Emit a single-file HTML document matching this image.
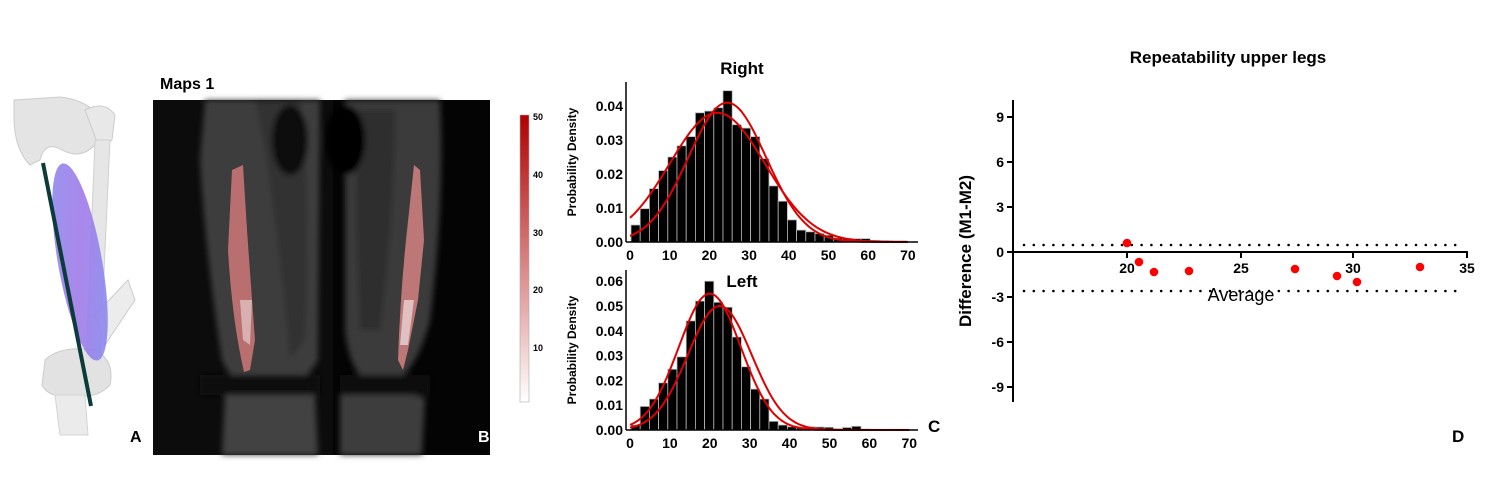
<!DOCTYPE html>
<html><head><meta charset="utf-8">
<style>
html,body{margin:0;padding:0;background:#fff;}
svg{display:block;font-family:"Liberation Sans",Arial,sans-serif;}
</style></head>
<body>
<svg id="s" width="1499" height="479" viewBox="0 0 1499 479" xmlns="http://www.w3.org/2000/svg">
<defs>
<linearGradient id="cb" x1="0" y1="1" x2="0" y2="0">
<stop offset="0" stop-color="#ffffff"/><stop offset="1" stop-color="#b00000"/></linearGradient>
<filter id="bl"><feGaussianBlur stdDeviation="3"/></filter>
<linearGradient id="fib" x1="0" y1="0" x2="1" y2="1">
<stop offset="0" stop-color="#8a8cf0"/><stop offset="0.5" stop-color="#a07ae8"/><stop offset="1" stop-color="#7f8ff2"/></linearGradient>
</defs>

<!-- Panel A -->
<g>
<path d="M14,100 L60,97 Q90,100 100,120 L95,145 Q80,160 62,150 Q45,140 40,160 L30,165 Q15,150 14,120 Z" fill="#e4e4e4" stroke="#ccc"/>
<path d="M85,110 Q105,100 115,115 L112,140 L100,150 Z" fill="#e8e8e8" stroke="#ccc"/>
<path d="M95,140 L110,140 L100,360 L86,360 Z" fill="#e6e6e6" stroke="#d0d0d0"/>
<path d="M45,360 Q60,345 95,350 Q115,360 110,385 Q95,400 75,395 Q50,400 42,385 Z" fill="#e2e2e2" stroke="#ccc"/>
<path d="M55,395 L85,395 L88,435 L60,435 Z" fill="#ebebeb" stroke="#d4d4d4"/>
<path d="M95,315 L128,280 L135,300 L105,345 Z" fill="#ececec" stroke="#ccc"/>
<ellipse cx="80" cy="262" rx="22" ry="100" transform="rotate(-10 80 262)" fill="url(#fib)" opacity="0.9"/>
<line x1="43" y1="163" x2="91" y2="406" stroke="#0d3b3b" stroke-width="4"/>
<text x="130" y="442" font-size="16" font-weight="bold">A</text>
</g>

<!-- Panel B -->
<text x="160" y="89" font-size="16" font-weight="bold">Maps 1</text>
<g>
<rect x="153" y="100" width="337" height="355" fill="#040404"/>
<rect x="153" y="100" width="180" height="355" fill="#0c0c0c"/>
<g filter="url(#bl)">
<path d="M205,100 L320,100 L318,360 Q300,390 270,395 Q235,390 222,360 Q205,250 200,160 Z" fill="#3c3c3c"/>
<path d="M255,100 L300,100 Q312,200 305,340 L290,360 Q280,250 265,150 Z" fill="#303030"/>
<path d="M345,100 L440,100 Q445,200 430,320 Q415,380 380,390 Q350,380 345,330 Z" fill="#3a3a3a"/>
<path d="M355,110 L395,110 Q395,220 380,330 L360,330 Q355,220 355,110 Z" fill="#2e2e2e"/>
<path d="M225,395 Q250,385 315,395 L318,455 L222,455 Z" fill="#424242"/>
<path d="M340,395 Q380,385 425,398 L422,455 L340,455 Z" fill="#3e3e3e"/>
<ellipse cx="290" cy="140" rx="18" ry="35" fill="#0a0a0a"/>
<ellipse cx="345" cy="140" rx="20" ry="35" fill="#060606"/>
<rect x="200" y="375" width="120" height="20" fill="#0a0a0a"/>
<rect x="340" y="375" width="90" height="20" fill="#0a0a0a"/>
</g>
<path d="M232,170 L243,165 L247,230 L252,300 L255,340 L250,370 L244,372 Q232,320 228,250 Z" fill="#c07272" opacity="0.95"/>
<path d="M240,300 L252,300 L250,345 L243,340 Z" fill="#d8b0b0"/>
<path d="M414,165 L420,170 L424,240 L418,300 L408,350 L403,370 L398,360 Q400,300 406,240 Z" fill="#c57a7a" opacity="0.95"/>
<path d="M404,300 L414,300 L408,345 L400,345 Z" fill="#e0c0c0"/>
<text x="478" y="442" font-size="16" font-weight="bold" fill="#fff">B</text>
</g>
<rect x="520" y="115" width="9" height="287" fill="url(#cb)" stroke="#aaa" stroke-width="0.6"/>
<g font-size="9" font-weight="bold">
<text x="533" y="120">50</text><text x="533" y="178">40</text><text x="533" y="236">30</text><text x="533" y="293">20</text><text x="533" y="351">10</text>
</g>

<g id="hist"></g>
<text x="742" y="74" font-size="17" font-weight="bold" text-anchor="middle">Right</text>
<text x="742" y="287" font-size="17" font-weight="bold" text-anchor="middle">Left</text>
<text x="928" y="432" font-size="17" font-weight="bold">C</text>

<!-- Panel D -->
<text x="1228" y="63" font-size="17" font-weight="bold" text-anchor="middle">Repeatability upper legs</text>
<g id="pd"></g>
<text x="1452" y="442" font-size="17" font-weight="bold">D</text>
</svg>
<script>
var NS="http://www.w3.org/2000/svg";
function el(p,t,a,txt){var e=document.createElementNS(NS,t);for(var k in a)e.setAttribute(k,a[k]);if(txt!=null)e.textContent=txt;p.appendChild(e);return e;}
var H=document.getElementById('hist');
function gauss(m,s,p,x){return p*Math.exp(-(x-m)*(x-m)/(2*s*s));}
function plot(y0,sc,x0,ux,vals,maxT,curves,ytop){
  for(var i=0;i<vals.length;i++){
    var h=vals[i]*sc;
    el(H,'rect',{x:x0+1+i*9.2,y:y0-h,width:9.2,height:h,fill:'#000',stroke:'#bbb','stroke-width':0.8});
  }
  curves.forEach(function(c){
    var d='';for(var x=0;x<=70;x+=0.5){var px=x0+x*ux,py=y0-gauss(c[0],c[1],c[2],x)*sc;d+=(x?'L':'M')+px.toFixed(1)+','+py.toFixed(1);}
    el(H,'path',{d:d,fill:'none',stroke:'#e00000','stroke-width':2});
  });
  el(H,'line',{x1:x0-4,y1:ytop,x2:x0-4,y2:y0,stroke:'#000','stroke-width':1.5});
  el(H,'line',{x1:x0-4,y1:y0,x2:x0+288,y2:y0,stroke:'#000','stroke-width':1.5});
  for(var t=0;t<=70;t+=10){el(H,'text',{x:x0+t*ux,y:y0+18,'font-size':14,'font-weight':'bold','text-anchor':'middle'},String(t));}
  for(var v=0;v<=maxT;v++){var py=y0-v*0.01*sc;el(H,'text',{x:x0-7,y:py+5,'font-size':14,'font-weight':'bold','text-anchor':'end'},(v/100).toFixed(2));}
  var cy=(ytop+y0)/2;
  el(H,'text',{x:0,y:0,'font-size':12,'font-weight':'bold','text-anchor':'middle',transform:'translate(576,'+cy+') rotate(-90)'},'Probability Density');
}
plot(242,3400,630,3.97,[.005,.0098,.0157,.021,.025,.0283,.031,.038,.0385,.0395,.0445,.0345,.0335,.031,.0245,.0165,.012,.0065,.0035,.003,.0025,.002,.0012,.0011,.001,.001,.0005,.0004,.0003,.0003],4,[[24.5,9.8,.041],[22,12,.038]],82);
plot(430,2480,630,3.99,[.002,.0095,.0125,.019,.0245,.0295,.044,.052,.060,.0515,.0495,.0375,.0255,.0165,.0125,.0035,.002,.0013,.0012,.0013,.0012,.0011,.0005,.001,.0015,.0004,.0003,.0003,.0003,.0003],6,[[20,7.8,.055],[22.5,8,.050]],270);

var D=document.getElementById('pd');
el(D,'line',{x1:1013,y1:100,x2:1013,y2:402,stroke:'#000','stroke-width':2});
el(D,'line',{x1:1012,y1:252,x2:1468,y2:252,stroke:'#000','stroke-width':2});
[[9,117],[6,162],[3,207],[0,252],[-3,297],[-6,342],[-9,387]].forEach(function(t){
 el(D,'line',{x1:1007,y1:t[1],x2:1013,y2:t[1],stroke:'#000','stroke-width':2});
 el(D,'text',{x:1004,y:t[1]+5,'font-size':14,'font-weight':'bold','text-anchor':'end'},t[0]===0?'0':(t[0]<0?'-'+(-t[0]):String(t[0])));
});
[[20,1127],[25,1241],[30,1353],[35,1467]].forEach(function(t){
 el(D,'line',{x1:t[1],y1:252,x2:t[1],y2:258,stroke:'#000','stroke-width':2});
 el(D,'text',{x:t[1],y:273,'font-size':14,'font-weight':'bold','text-anchor':'middle'},String(t[0]));
});
for(var x=1024;x<=1463;x+=9.8){el(D,'circle',{cx:x,cy:245,r:1.3,fill:'#000'});el(D,'circle',{cx:x,cy:291,r:1.3,fill:'#000'});}
el(D,'text',{x:1241,y:301,'font-size':18,'text-anchor':'middle'},'Average');
[[1127,243],[1139,262],[1154,272],[1189,271],[1295,269],[1337,276],[1357,282],[1420,267]].forEach(function(p){
 el(D,'circle',{cx:p[0],cy:p[1],r:4.3,fill:'#ff0000'});
});
el(D,'text',{x:0,y:0,'font-size':17,'font-weight':'bold','text-anchor':'middle',transform:'translate(971,251) rotate(-90)'},'Difference (M1-M2)');
</script>
</body></html>
